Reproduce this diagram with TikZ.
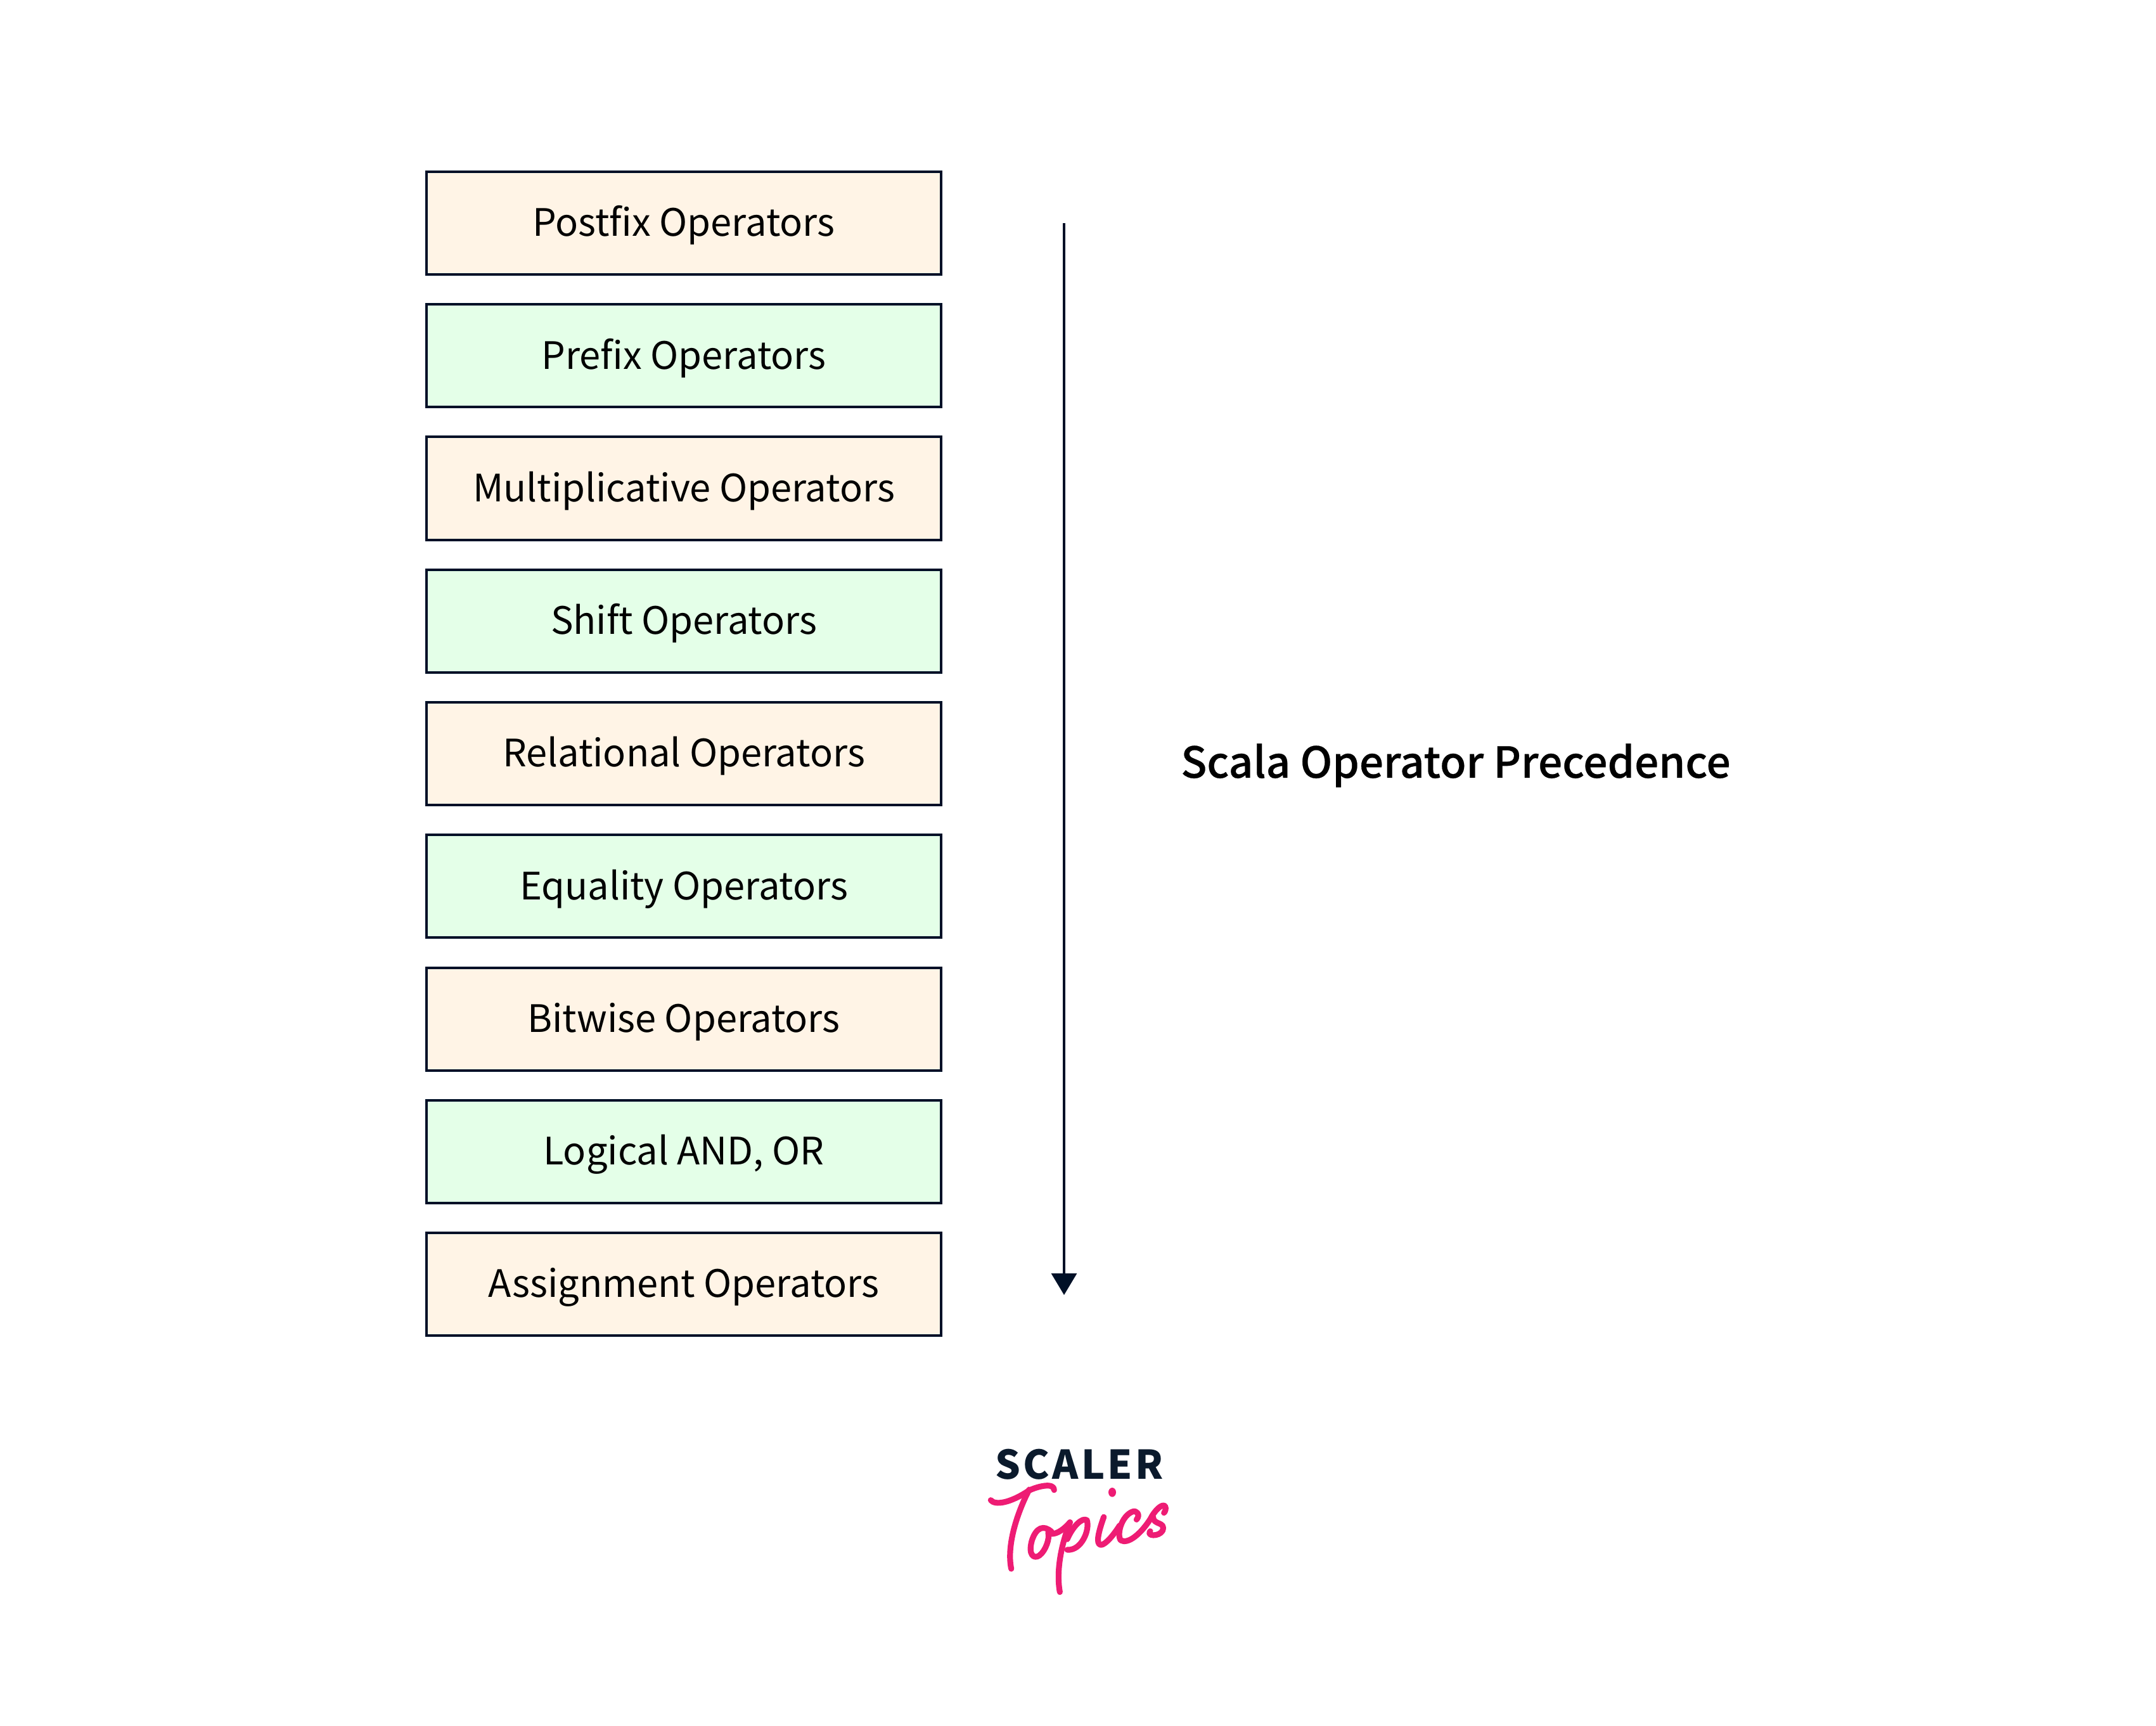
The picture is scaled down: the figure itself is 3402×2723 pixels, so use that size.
\documentclass[tikz,border=0pt]{standalone}
\usepackage{fontspec}
\setmainfont{Noto Sans CJK SC}
\newfontfamily\headfont[FakeBold=0.35]{Noto Sans CJK SC Medium}
\usetikzlibrary{arrows.meta}
\definecolor{ink}{HTML}{001027}
\definecolor{creamfill}{HTML}{FFF4E6}
\definecolor{greenfill}{HTML}{E4FFE8}
\definecolor{logoink}{HTML}{0B1A2C}
\definecolor{logopink}{HTML}{EE1C74}
\tikzset{
  opbox/.style={draw=ink,line width=0.96pt,minimum width=194.9pt,minimum height=38.9pt,inner sep=0pt,font=\fontsize{14.3pt}{18pt}\selectfont,text=black,anchor=north west,text height=14.2pt,text depth=4.2pt},
  cream/.style={opbox,fill=creamfill},
  mint/.style={opbox,fill=greenfill},
  flow/.style={draw=ink,line width=0.85pt,-{Triangle[length=8.2pt,width=9.6pt]}},
  script/.style={draw=logopink,line width=2.2pt,line cap=round,line join=round}
}
\begin{document}
\begin{tikzpicture}[x=0.24pt,y=-0.24pt]
\useasboundingbox (0,0) rectangle (3402,2723);
\fill[white] (0,0) rectangle (3402,2723);
\node[cream] (b1) at (671,269) {Postfix Operators};
\node[mint]  (b2) at (671,478.25) {Prefix Operators};
\node[cream] (b3) at (671,687.5) {Multiplicative Operators};
\node[mint]  (b4) at (671,896.75) {Shift Operators};
\node[cream] (b5) at (671,1106) {Relational Operators};
\node[mint]  (b6) at (671,1315.25) {Equality Operators};
\node[cream] (b7) at (671,1524.5) {Bitwise Operators};
\node[mint]  (b8) at (671,1733.75) {Logical AND, OR};
\node[cream] (b9) at (671,1943) {Assignment Operators};
\coordinate (s) at (1679,352);
\coordinate (e) at (1679,2043);
\draw[flow] (s) -- (e);
\node[font=\fontsize{16.2pt}{18pt}\headfont,text=black,anchor=base,inner sep=0pt] (title) at (2297,1227) {Scala Operator Precedence};
\node[font=\fontsize{15pt}{18pt}\selectfont\bfseries,text=logoink,anchor=base,inner sep=0pt] (scaler) at (1703,2333) {S\kern1.05pt C\kern1.05pt A\kern1.05pt L\kern1.05pt E\kern1.05pt R};
\begin{scope}[shift={(1500,2250)},x=0.08pt,y=-0.08pt,script]
\draw (190,350) .. controls (210,375) and (280,365) .. (370,305) .. controls (410,285) and (490,265) .. (490,302);
\draw (372,300) .. controls (310,420) and (265,570) .. (287,675);
\draw (478,500) .. controls (440,465) and (405,480) .. (385,540) .. controls (365,610) and (395,630) .. (420,612) .. controls (450,590) and (470,530) .. (462,505) .. controls (490,520) and (530,495) .. (565,455);
\draw (565,455) .. controls (520,570) and (500,690) .. (517,785);
\draw (552,535) .. controls (580,470) and (625,430) .. (645,445) .. controls (660,490) and (620,590) .. (552,585);
\draw (725,430) .. controls (700,500) and (685,560) .. (712,562) .. controls (735,560) and (775,510) .. (800,470);
\draw (880,442) .. controls (900,420) and (880,395) .. (860,405) .. controls (810,425) and (785,510) .. (805,540) .. controls (840,560) and (900,510) .. (945,440) .. controls (965,400) and (1000,365) .. (1015,378) .. controls (1022,390) and (1015,405) .. (1010,410);
\draw (958,430) .. controls (960,470) and (1020,450) .. (1003,495) .. controls (985,525) and (925,520) .. (945,497);
\fill[logopink,draw=none] (765,313) ellipse [x radius=18,y radius=22];
\end{scope}
\end{tikzpicture}
\end{document}
